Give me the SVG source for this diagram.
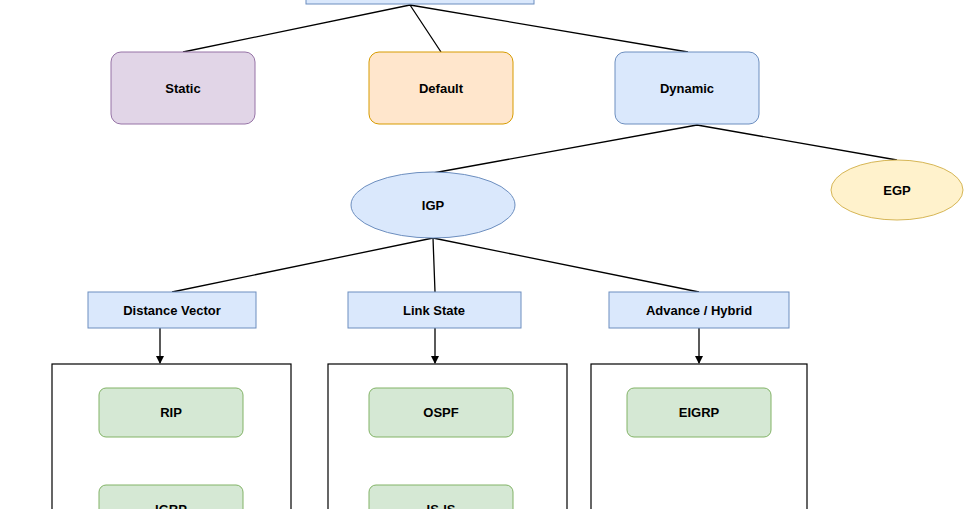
<svg xmlns="http://www.w3.org/2000/svg" width="970" height="509" viewBox="0 0 970 509">
<style>
text{font-family:"Liberation Sans",Arial,sans-serif;font-weight:bold;font-size:13px;fill:#000;text-anchor:middle;dominant-baseline:central}
.b{fill:#dae8fc;stroke:#6c8ebf;stroke-width:1}
.g{fill:#d5e8d4;stroke:#82b366;stroke-width:1}
.c{fill:#fff;stroke:#000;stroke-width:1.2}
.l{stroke:#000;stroke-width:1.3;fill:none}
</style>
<defs><marker id="a" markerWidth="8" markerHeight="8" refX="7" refY="4" orient="auto" markerUnits="userSpaceOnUse"><path d="M0,0L8,4L0,8Z" fill="#000"/></marker></defs>
<rect width="970" height="509" fill="#fff"/>
<g id="containers">
<rect class="c" x="52" y="364" width="239" height="160"/>
<rect class="c" x="328" y="364" width="239" height="160"/>
<rect class="c" x="591" y="364" width="216" height="160"/>
</g>
<g id="connectors">
<path class="l" d="M410,5L183,52M410,5L441,52M410,5L688,52"/>
<path class="l" d="M697,125L433,173M697,125L897,160"/>
<path class="l" d="M433,238L172,292M433,238L435,292M433,238L699,292"/>
<path class="l" d="M160,328L160,363" marker-end="url(#a)"/>
<path class="l" d="M435,328L435,363" marker-end="url(#a)"/>
<path class="l" d="M699,328L699,363" marker-end="url(#a)"/>
</g>
<g id="root"><rect class="b" x="306" y="-30" width="228" height="34"/></g>
<g id="static"><rect x="111" y="52" width="144" height="72" rx="10" fill="#e1d5e7" stroke="#9673a6"/><text x="183" y="88">Static</text></g>
<g id="default"><rect x="369" y="52" width="144" height="72" rx="10" fill="#ffe6cc" stroke="#d79b00"/><text x="441" y="88">Default</text></g>
<g id="dynamic"><rect class="b" x="615" y="52" width="144" height="72" rx="10"/><text x="687" y="88">Dynamic</text></g>
<g id="egp"><ellipse cx="897" cy="190" rx="66" ry="30" fill="#fff2cc" stroke="#d6b656"/><text x="897" y="190">EGP</text></g>
<g id="igp"><ellipse class="b" cx="433" cy="205" rx="82" ry="33"/><text x="433" y="205">IGP</text></g>
<g id="dv"><rect class="b" x="88" y="292" width="168" height="36"/><text x="172" y="310">Distance Vector</text></g>
<g id="ls"><rect class="b" x="348" y="292" width="173" height="36"/><text x="434" y="310">Link State</text></g>
<g id="adv"><rect class="b" x="609" y="292" width="180" height="36"/><text x="699" y="310">Advance / Hybrid</text></g>
<g id="rip"><rect class="g" x="99" y="388" width="144" height="49" rx="7"/><text x="171" y="412">RIP</text></g>
<g id="igrp"><rect class="g" x="99" y="485" width="144" height="49" rx="7"/><text x="171" y="509">IGRP</text></g>
<g id="ospf"><rect class="g" x="369" y="388" width="144" height="49" rx="7"/><text x="441" y="412">OSPF</text></g>
<g id="isis"><rect class="g" x="369" y="485" width="144" height="49" rx="7"/><text x="441" y="509">IS-IS</text></g>
<g id="eigrp"><rect class="g" x="627" y="388" width="144" height="49" rx="7"/><text x="699" y="412">EIGRP</text></g>
</svg>
